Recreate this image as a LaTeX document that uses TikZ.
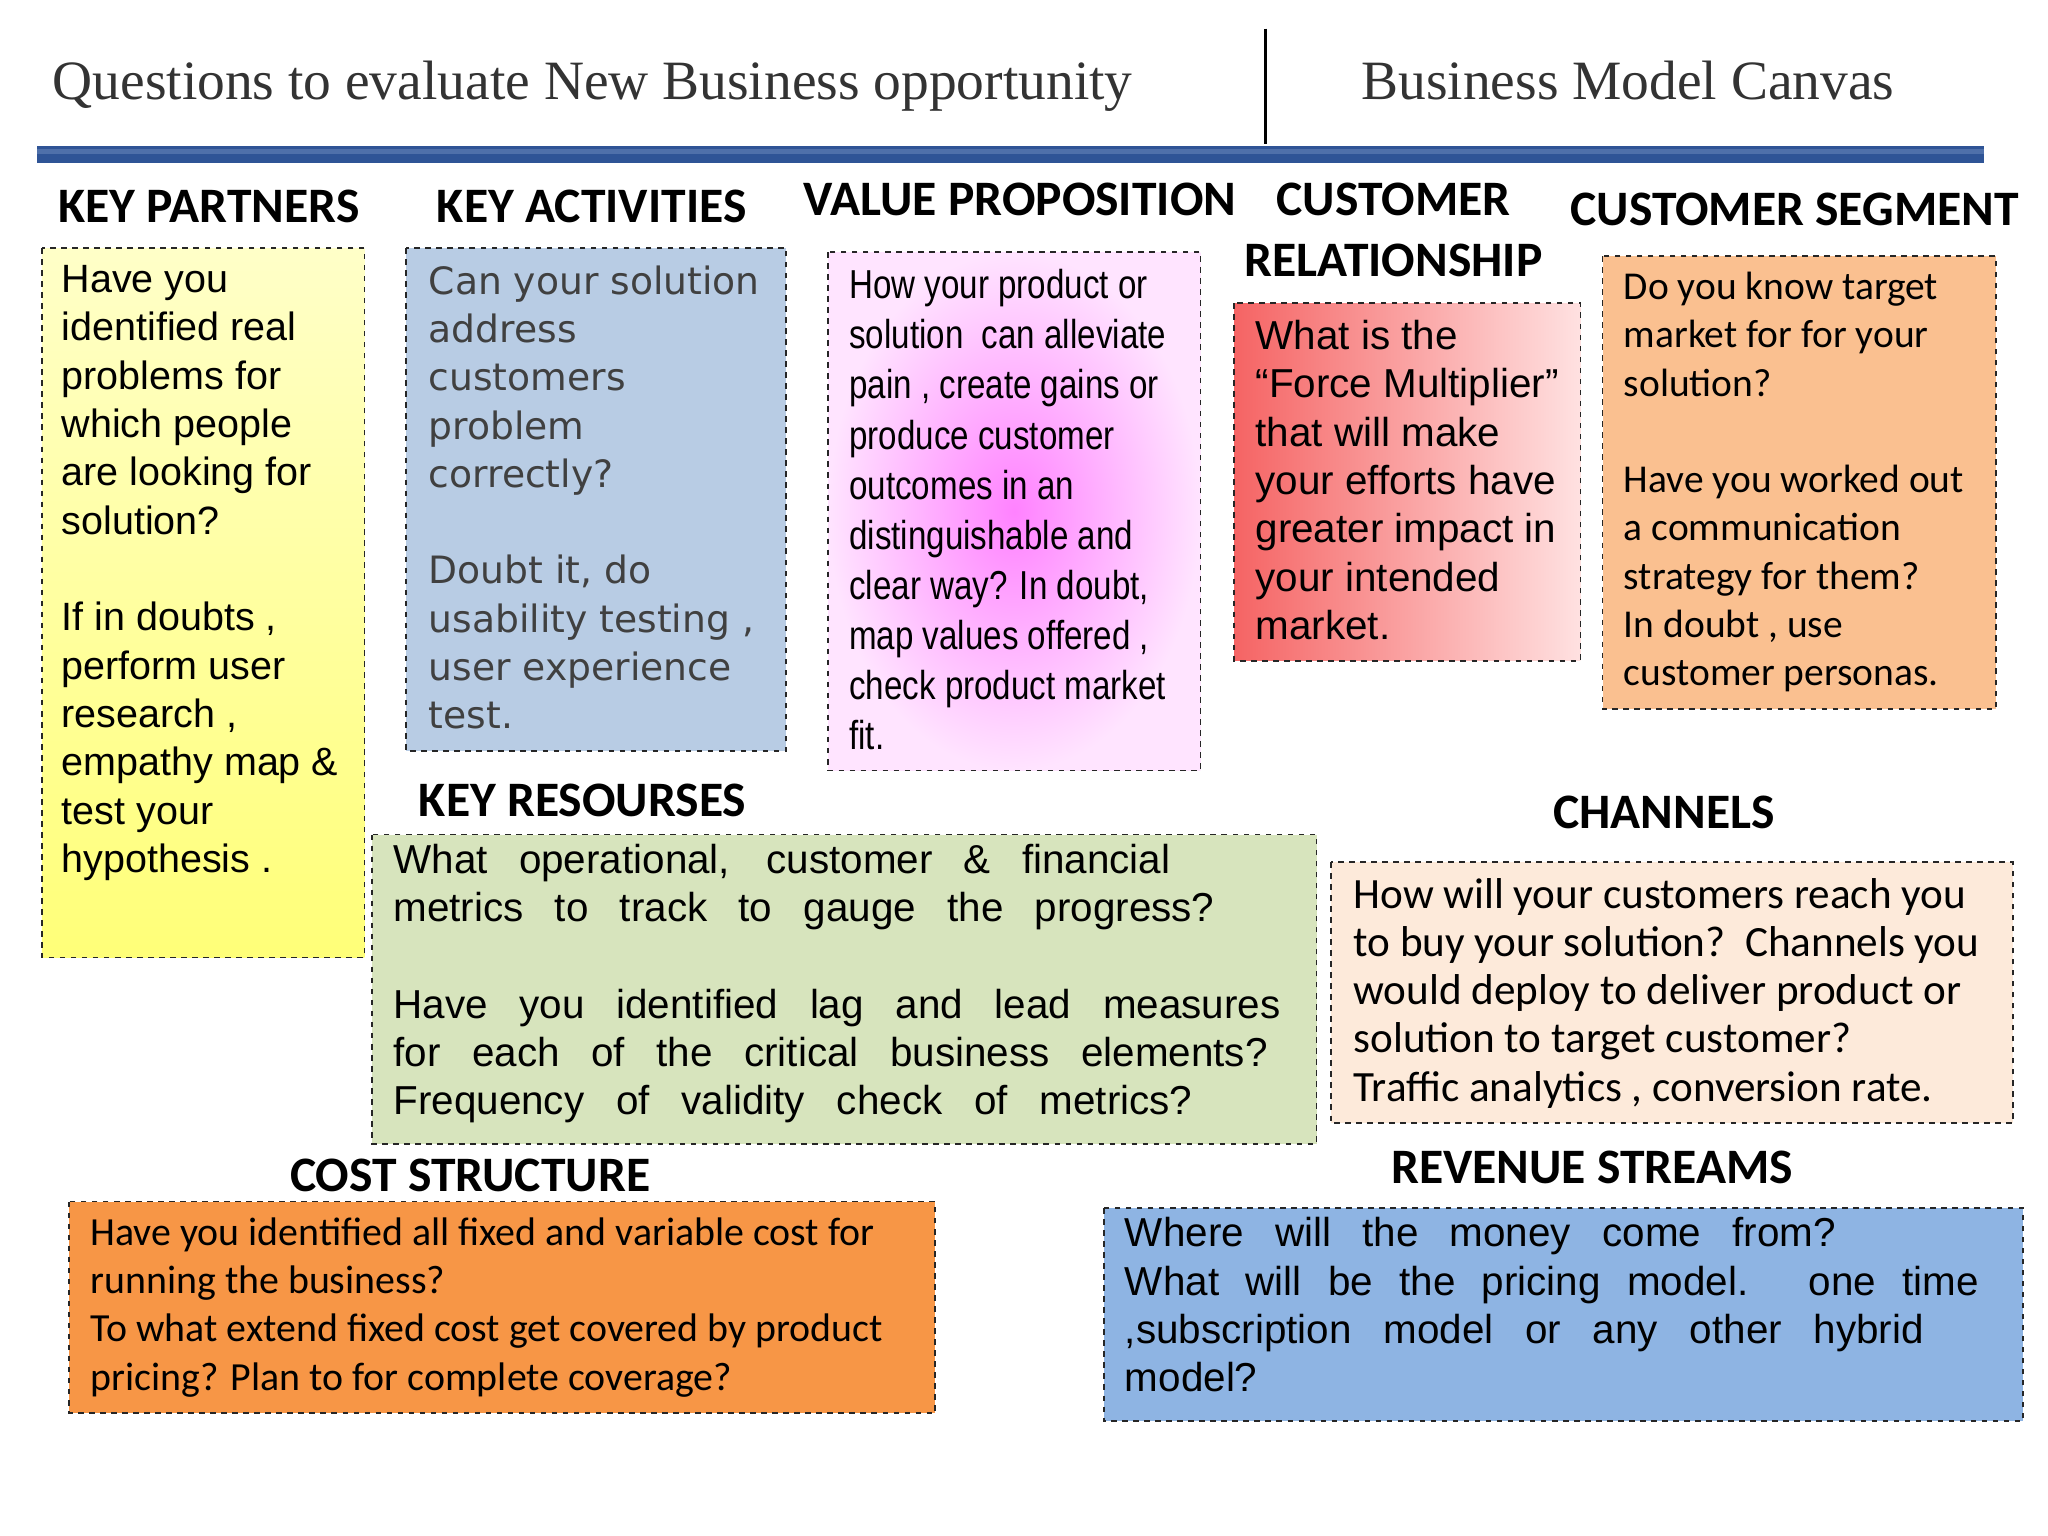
\documentclass[tikz,border=0pt]{standalone}
\usepackage{fontspec}
\setmainfont{Liberation Sans}
\newfontfamily\titlefont{Liberation Serif}
\newfontfamily\calfont{Carlito}
\newfontfamily\dvfont{DejaVu Sans}
\newfontfamily\narrowfont[FakeStretch=0.82]{Liberation Sans}
\begin{document}
\begin{tikzpicture}[x=0.025cm,y=-0.025cm,
  bx/.style={draw=black!85,dashed,line width=0.9pt},
  hd/.style={font=\calfont\bfseries\fontsize{27}{31}\selectfont,align=center,inner sep=0pt},
  tx/.style={anchor=north west,align=left,inner sep=0pt}]
\useasboundingbox (0,0) rectangle (1568,1176);
\fill[white] (0,0) rectangle (1568,1176);
% header
\node[anchor=west,inner sep=0pt,font=\titlefont\fontsize{30.2}{36}\selectfont,text=black!80] (title) at (40,66) {Questions to evaluate New Business opportunity};
\node[anchor=west,inner sep=0pt,font=\titlefont\fontsize{30.2}{36}\selectfont,text=black!80] (title2) at (1042,62) {Business Model Canvas};
\draw[line width=1.6pt] (969,22) -- (969,110);
\fill[color={rgb,255:red,47;green,84;blue,150}] (28,112) rectangle (1519,125);
\fill[color={rgb,255:red,79;green,112;blue,170}] (28,114) rectangle (1519,118);
% boxes
\shade[bottom color={rgb,255:red,255;green,255;blue,120},top color={rgb,255:red,255;green,255;blue,200}] (32,190) rectangle (279,733);
\draw[bx] (32,190) rectangle (279,733);
\fill[color={rgb,255:red,184;green,204;blue,228}] (311,190) rectangle (602,575);
\draw[bx] (311,190) rectangle (602,575);
\shade[inner color={rgb,255:red,255;green,130;blue,255},outer color={rgb,255:red,255;green,228;blue,255}] (634,193) rectangle (919,590);
\draw[bx] (634,193) rectangle (919,590);
\shade[left color={rgb,255:red,245;green,100;blue,100},right color={rgb,255:red,255;green,225;blue,225}] (945,232) rectangle (1210,506);
\draw[bx] (945,232) rectangle (1210,506);
\fill[color={rgb,255:red,250;green,192;blue,144}] (1227,196) rectangle (1528,543);
\draw[bx] (1227,196) rectangle (1528,543);
\fill[color={rgb,255:red,215;green,228;blue,189}] (285,639) rectangle (1008,876);
\draw[bx] (285,639) rectangle (1008,876);
\fill[color={rgb,255:red,253;green,234;blue,218}] (1019,660) rectangle (1541,860);
\draw[bx] (1019,660) rectangle (1541,860);
\fill[color={rgb,255:red,247;green,150;blue,70}] (53,920) rectangle (716,1082);
\draw[bx] (53,920) rectangle (716,1082);
\fill[color={rgb,255:red,142;green,180;blue,227}] (845,925) rectangle (1549,1088);
\draw[bx] (845,925) rectangle (1549,1088);
% headings
\node[hd] (h1) at (160,158) {KEY PARTNERS};
\node[hd] (h2) at (453,158) {KEY ACTIVITIES};
\node[hd] (h3) at (781,153) {VALUE PROPOSITION};
\node[hd,font=\calfont\bfseries\fontsize{27}{33}\selectfont] (h4) at (1067,176) {CUSTOMER\\RELATIONSHIP};
\node[hd] (h5) at (1374,160) {CUSTOMER SEGMENT};
\node[hd] (h6) at (446,613) {KEY RESOURSES};
\node[hd] (h7) at (1274,622) {CHANNELS};
\node[hd] (h8) at (360,900) {COST STRUCTURE};
\node[hd] (h9) at (1219,894) {REVENUE STREAMS};
% texts
\node[tx,font=\fontsize{21.5}{26.3}\selectfont] (t1) at (47,203) {Have you\\identified real\\problems for\\which people\\are looking for\\solution?\\[26.3pt]If in doubts ,\\perform user\\research ,\\empathy map \&\\test your\\hypothesis .};
\node[tx,font=\dvfont\fontsize{20.5}{26.3}\selectfont,text=black!75] (t2) at (328,203) {Can your solution\\address\\customers\\problem\\correctly?\\[26.3pt]Doubt it, do\\usability testing ,\\user experience\\test.};
\node[tx,font=\narrowfont\fontsize{22}{27.3}\selectfont] (t3) at (650,206) {How your product or\\solution\ \ can alleviate\\pain , create gains or\\produce customer\\outcomes in an\\distinguishable and\\clear way? In doubt,\\map values offered ,\\check product market\\fit.};
\node[tx,font=\fontsize{22}{26.3}\selectfont] (t4) at (961,245) {What is the\\“Force Multiplier”\\that will make\\your efforts have\\greater impact in\\your intended\\market.};
\node[tx,font=\calfont\fontsize{21.5}{26.3}\selectfont] (t5) at (1243,208) {Do you know target\\market for for your\\solution?\\[26.3pt]Have you worked out\\a communication\\strategy for them?\\In doubt , use\\customer personas.};
\node[tx,font=\fontsize{22}{26.3}\selectfont] (t6) at (301,646) {\makebox[423pt][s]{What operational, customer \& financial}\\\makebox[447pt][s]{metrics to track to gauge the progress?}\\[26.3pt]\makebox[483pt][s]{Have you identified lag and lead measures}\\\makebox[476pt][s]{for each of the critical business elements?}\\\makebox[435pt][s]{Frequency of validity check of metrics?}};
\node[tx,font=\calfont\fontsize{23.5}{26.3}\selectfont] (t7) at (1036,672) {How will your customers reach you\\to buy your solution?\ \ Channels you\\would deploy to deliver product or\\solution to target customer?\\Traffic analytics , conversion rate.};
\node[tx,font=\calfont\fontsize{21.7}{26.3}\selectfont] (t8) at (69,932) {Have you identified all fixed and variable cost for\\running the business?\\To what extend fixed cost get covered by product\\pricing? Plan to for complete coverage?};
\node[tx,font=\fontsize{22}{26.3}\selectfont] (t9) at (861,932) {\makebox[387pt][s]{Where will the money come from?}\\\makebox[465pt][s]{What will be the pricing model. one time}\\\makebox[435pt][s]{,subscription model or any other hybrid}\\model?};
\end{tikzpicture}
\end{document}
